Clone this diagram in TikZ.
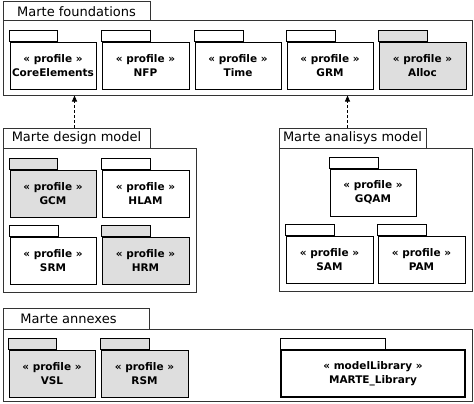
\documentclass[tikz,border=0pt]{standalone}
\usepackage{fontspec}
\setmainfont{DejaVu Sans}
\usetikzlibrary{arrows.meta}
\definecolor{pkgray}{HTML}{DEDEDE}
\definecolor{outline}{HTML}{333333}
\tikzset{
  pk/.style={draw=black, line width=0.9pt, inner sep=0pt, align=center,
    font=\fontsize{10.5}{14}\selectfont\bfseries},
  tabst/.style={draw=black, line width=0.9pt},
  grayp/.style={fill=pkgray},
  whitep/.style={fill=white},
  outerbody/.style={draw=outline, line width=1pt, inner sep=0pt},
  outertab/.style={draw=outline, line width=1pt, inner sep=0pt, fill=white,
    font=\fontsize{13}{15}\selectfont},
  dep/.style={densely dashed, line width=0.8pt, -{Triangle[length=6pt,width=5pt]}},
}
% name, x1, ytop, x2, ybot, style, label, tab width
\newcommand{\pkgbox}[8]{%
  \node[pk, #6, minimum width={(#4-#2)*1pt}, minimum height={(#5-#3)*1pt}]
    (#1) at ({(#2+#4)/2},{-(#3+#5)/2}) {#7};
  \draw[tabst, #6] (#1.north west) rectangle ++(#8,11);
}
% name, x1, ytab, ytop, xtab, x2, ybot, title
\newcommand{\outerpkg}[8]{%
  \node[outerbody, minimum width={(#6-#2)*1pt}, minimum height={(#7-#4)*1pt}]
    (#1) at ({(#2+#6)/2},{-(#4+#7)/2}) {};
  \node[outertab, minimum width={(#5-#2)*1pt}, minimum height={(#4-#3)*1pt}]
    (#1tab) at ({(#2+#5)/2},{-(#3+#4)/2}) {#8};
}
\begin{document}
\begin{tikzpicture}[x=1pt,y=1pt]
\useasboundingbox (0,0) rectangle (474,-404);
% outer packages
\outerpkg{found}{3}{2}{21}{150}{472}{95}{Marte foundations}
\outerpkg{design}{3}{128}{148}{150}{196}{292}{Marte design model}
\outerpkg{analysis}{279}{128}{148}{426}{472}{291}{Marte analisys model}
\node[outerbody, minimum width=469pt, minimum height=72pt] (annex) at (237.5,-365) {};
\node[outertab, minimum width=146pt, minimum height=21pt] (annextab) at (76,-318.5) {};
\node[font=\fontsize{13}{15}\selectfont, inner sep=0pt] (annextitle) at (68.5,-318.5) {Marte annexes};
% foundations
\pkgbox{core}{10}{42}{96}{89}{whitep}{« profile »\\CoreElements}{48}
\pkgbox{nfp}{102}{42}{189}{89}{whitep}{« profile »\\NFP}{49}
\pkgbox{time}{195}{42}{281}{89}{whitep}{« profile »\\Time}{49}
\pkgbox{grm}{287}{42}{373}{89}{whitep}{« profile »\\GRM}{49}
\pkgbox{alloc}{379}{42}{466}{89}{grayp}{« profile »\\Alloc}{49}
% design
\pkgbox{gcm}{10}{170}{96}{217}{grayp}{« profile »\\GCM}{48}
\pkgbox{hlam}{102}{170}{189}{217}{whitep}{« profile »\\HLAM}{49}
\pkgbox{srm}{10}{237}{96}{284}{whitep}{« profile »\\SRM}{49}
\pkgbox{hrm}{102}{237}{189}{284}{grayp}{« profile »\\HRM}{49}
% analysis
\pkgbox{gqam}{330}{169}{416}{216}{whitep}{« profile »\\GQAM}{49}
\pkgbox{sam}{286}{236}{373}{283}{whitep}{« profile »\\SAM}{49}
\pkgbox{pam}{378}{236}{465}{283}{whitep}{« profile »\\PAM}{49}
% annexes
\pkgbox{vsl}{9}{350}{95}{397}{grayp}{« profile »\\VSL}{48}
\pkgbox{rsm}{101}{350}{188}{397}{grayp}{« profile »\\RSM}{49}
\pkgbox{lib}{281}{350}{465}{397}{whitep,line width=1.4pt}{« modelLibrary »\\MARTE\_Library}{105}
% dependencies
\draw[dep] ([xshift=-2pt]designtab.north) -- ([xshift=-2pt]designtab.north |- found.south);
\draw[dep] ([xshift=-5pt]analysistab.north) -- ([xshift=-5pt]analysistab.north |- found.south);
\end{tikzpicture}
\end{document}
